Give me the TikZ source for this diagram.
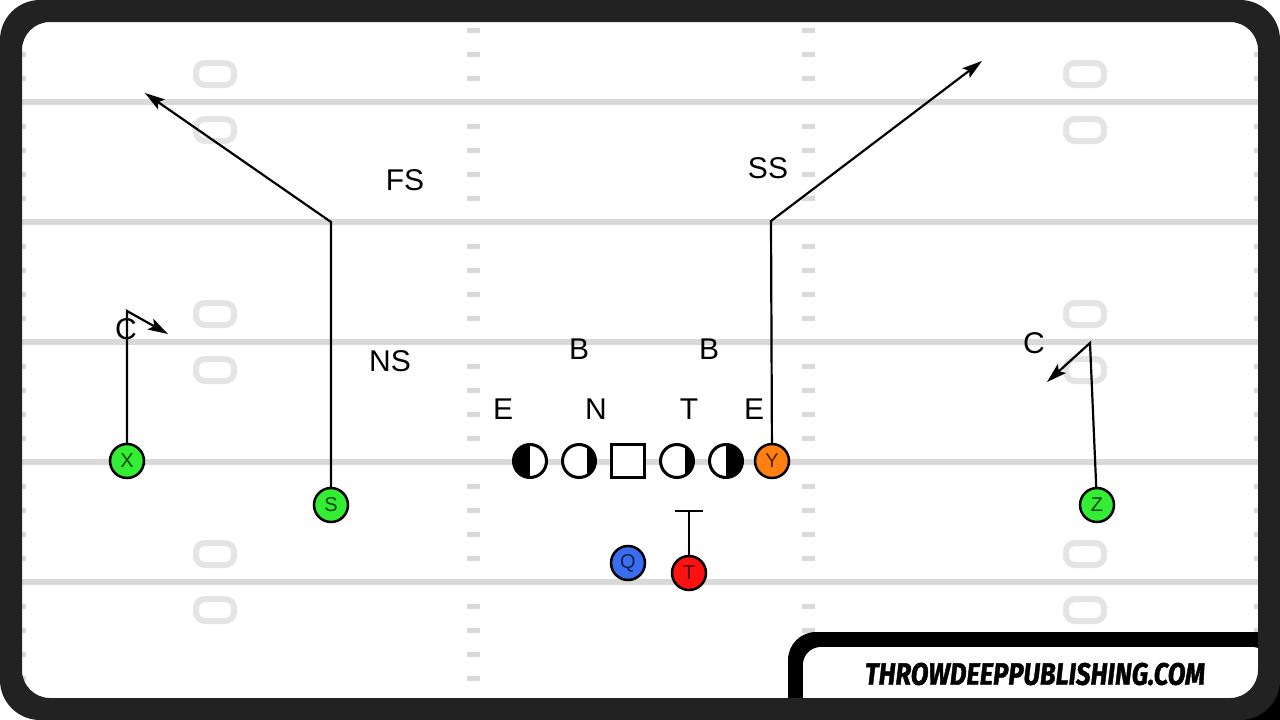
\documentclass[tikz,border=0pt]{standalone}
\usepackage{fontspec}
\usepackage{graphicx}
\setmainfont{Liberation Sans}
\newfontfamily\logofont{Fira Sans}[BoldItalicFeatures={FakeBold=1.5}]
\usetikzlibrary{arrows.meta}
\definecolor{framecol}{HTML}{222222}
\definecolor{fieldline}{HTML}{D9D9D9}
\definecolor{numcol}{HTML}{E4E4E4}
\definecolor{pgreen}{HTML}{33EE33}
\definecolor{pblue}{HTML}{3A6DF0}
\definecolor{pred}{HTML}{FF1111}
\definecolor{porange}{HTML}{FF7F10}
\tikzset{
  player/.style={circle, draw=black, line width=2.5pt, minimum size=34pt, inner sep=0pt,
    font=\fontsize{20}{20}\selectfont, text opacity=0.7},
  lineman/.style={circle, draw=black, line width=3pt, minimum size=33pt, inner sep=0pt, fill=white},
  centerbox/.style={rectangle, draw=black, line width=3pt, minimum size=33pt, inner sep=0pt, fill=white},
  lbl/.style={inner sep=0pt, font=\fontsize{30}{30}\selectfont},
  route/.style={line width=2.2pt, draw=black},
  arr/.style={route, -{Stealth[length=20pt,width=12pt,inset=4pt]}},
  yard/.style={draw=fieldline, line width=6pt},
  num/.style={draw=numcol, line width=6pt, rounded corners=9pt},
  lefthalf/.style={path picture={\fill[black] (path picture bounding box.north west) rectangle (path picture bounding box.south);}},
  righthalf/.style={path picture={\fill[black] (path picture bounding box.north) rectangle (path picture bounding box.south east);}},
  rightseg/.style={path picture={\fill[black] ([xshift=8pt]path picture bounding box.north) rectangle (path picture bounding box.south east);}}
}
\begin{document}
\begin{tikzpicture}[x=1pt,y=-1pt]
\useasboundingbox (0,0) rectangle (1280,720);
\fill[white] (0,0) rectangle (1280,720);
% field markings
\foreach \yy in {102,222,342,462,582} {\draw[yard] (10,\yy) -- (1270,\yy);}
\foreach \yy in {30,54,78,126,150,174,198,246,270,294,318,366,390,414,438,486,510,534,558,606,630,654,678} {
  \foreach \xx in {473,808} {\fill[fieldline] (\xx-6.5,\yy-2.5) rectangle (\xx+6.5,\yy+2.5);}
  \fill[fieldline] (18,\yy-2.5) rectangle (26,\yy+2.5);
  \fill[fieldline] (1254,\yy-2.5) rectangle (1262,\yy+2.5);
}
\foreach \cx in {215,1085} {
  \foreach \cy in {74,130,314,370,554,610} {\draw[num] (\cx-19,\cy-11) rectangle (\cx+19,\cy+11);}
}
% labels
\node[lbl] (fs) at (405,180) {FS};
\node[lbl] (ss) at (768,168) {SS};
\node[lbl] (ns) at (390,361) {NS};
\node[lbl] (b1) at (579,349) {B};
\node[lbl] (b2) at (709,349) {B};
\node[lbl] (e1) at (503,409) {E};
\node[lbl] (n1) at (596,409) {N};
\node[lbl] (t1) at (689,409) {T};
\node[lbl] (e2) at (754,409) {E};
\node[lbl] (cl) at (126,329) {C};
\node[lbl] (cr) at (1034,343) {C};
% offensive line
\node[lineman, lefthalf] (l1) at (530,461) {};
\node[lineman, rightseg] (l2) at (579,461) {};
\node[centerbox] (ctr) at (628,461) {};
\node[lineman, rightseg] (l4) at (677,461) {};
\node[lineman, righthalf] (l5) at (726,461) {};
% players
\node[player, fill=pgreen] (X) at (127,461) {X};
\node[player, fill=pgreen] (S) at (331,505) {S};
\node[player, fill=pblue] (Q) at (628,563) {Q};
\node[player, fill=pred] (T) at (689,573) {T};
\node[player, fill=porange] (Y) at (772,461) {Y};
\node[player, fill=pgreen] (Z) at (1097,505) {Z};
% route points
\coordinate (xc) at (127,311);
\coordinate (xe) at (168,334);
\coordinate (sc) at (331,222);
\coordinate (se) at (145,93);
\coordinate (yc) at (771,221);
\coordinate (ye) at (982,61);
\coordinate (zc) at (1090,343);
\coordinate (ze) at (1047,382);
\coordinate (tb) at (689,511);
\coordinate (tbl) at (675,511);
\coordinate (tbr) at (703,511);
% routes
\draw[arr] (X) -- (xc) -- (xe);
\draw[arr] (S) -- (sc) -- (se);
\draw[arr] (Y) -- (yc) -- (ye);
\draw[arr] (Z) -- (zc) -- (ze);
\draw[route] (T) -- (tb);
\draw[route] (tbl) -- (tbr);
% logo tab
\fill[black, rounded corners=28pt] (788,632) rectangle (1300,740);
\fill[white, rounded corners=18pt] (803,647) rectangle (1270,715);
\node[inner sep=0pt] (logo) at (1035,674) {\resizebox{340pt}{22pt}{\logofont\bfseries\itshape THROWDEEPPUBLISHING.COM}};
% frame
\fill[framecol, even odd rule] [rounded corners=40pt] (0,0) rectangle (1280,720) [rounded corners=28pt] (22,22) rectangle (1258,698);
\end{tikzpicture}
\end{document}
